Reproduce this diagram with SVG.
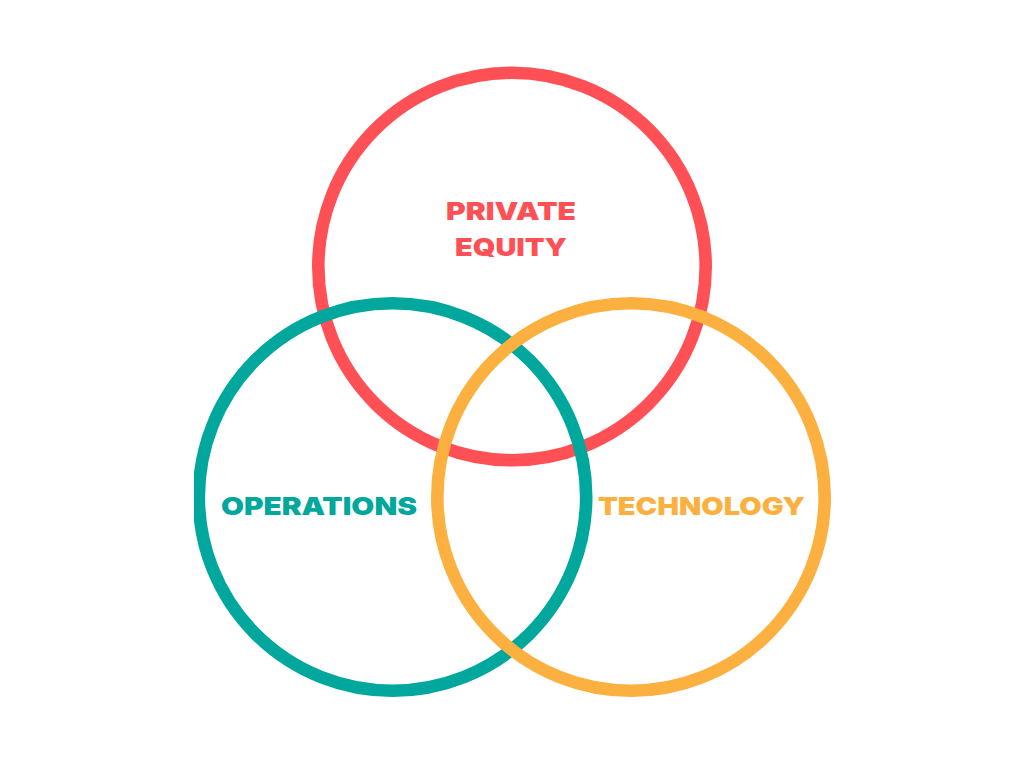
<svg xmlns="http://www.w3.org/2000/svg" width="1024" height="768" viewBox="0 0 1024 768">
  <style>
    .ring { fill: none; stroke-width: 12.6; }
    .lbl { font-family: Inter, "Liberation Sans", sans-serif; font-weight: 900; font-size: 25px; }
  </style>
  <defs>
    <clipPath id="clip">
      <rect x="194" y="0" width="638" height="768"/>
    </clipPath>
  </defs>
  <rect width="1024" height="768" fill="#ffffff"/>
  <g clip-path="url(#clip)">
    <g id="private-equity">
      <circle class="ring" cx="512" cy="266.5" r="193.7" stroke="#FF5056"/>
      <text class="lbl" fill="#FF5056" x="446" y="219.5" textLength="130" lengthAdjust="spacingAndGlyphs">PRIVATE</text>
      <text class="lbl" fill="#FF5056" x="455" y="255.5" textLength="112" lengthAdjust="spacingAndGlyphs">EQUITY</text>
    </g>
    <g id="operations">
      <circle class="ring" cx="392.5" cy="497" r="193.7" stroke="#00A79D"/>
      <text class="lbl" fill="#00A79D" x="221" y="514.5" textLength="196" lengthAdjust="spacingAndGlyphs">OPERATIONS</text>
    </g>
    <g id="technology">
      <circle class="ring" cx="631" cy="497" r="193.7" stroke="#FBB040"/>
      <text class="lbl" fill="#FBB040" x="598" y="514.5" textLength="207" lengthAdjust="spacingAndGlyphs">TECHNOLOGY</text>
    </g>
  </g>
  <g id="connectors"/>
</svg>
